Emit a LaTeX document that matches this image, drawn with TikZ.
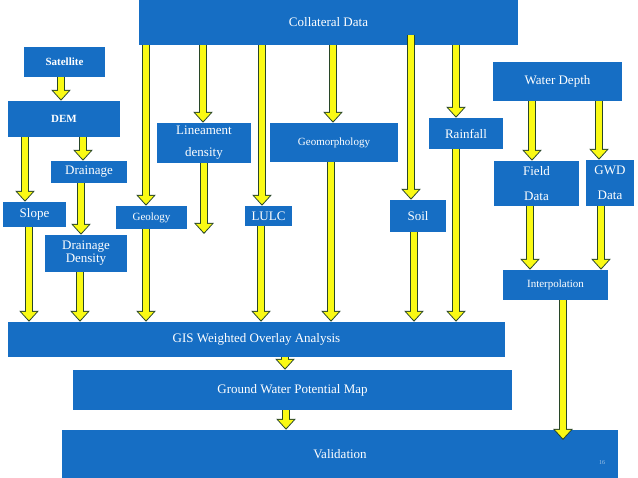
\documentclass[tikz,border=0pt]{standalone}
\usepackage{fontspec}
\setmainfont{Liberation Serif}
\usetikzlibrary{arrows.meta}
\definecolor{boxblue}{RGB}{22,110,196}
\definecolor{rim}{RGB}{40,70,40}
\definecolor{flowyel}{RGB}{250,250,20}
\tikzset{
  box/.style={fill=boxblue, text=white, inner sep=1pt, align=center, font=\fontsize{13}{14}\selectfont},
  rimline/.style={line width=8pt, rim, -{Triangle[length=11pt,width=19pt]}},
  fillline/.style={line width=5.4pt, flowyel, shorten >=1.5pt, -{Triangle[length=8.5pt,width=15pt]}}
}
\newcommand{\flow}[2]{\draw[rimline] (#1) -- (#2); \draw[fillline] (#1) -- (#2);}
\begin{document}
\begin{tikzpicture}[x=1pt,y=-1pt]
\useasboundingbox (0,0) rectangle (638,478);
\fill[white] (0,0) rectangle (638,478);
% boxes
\node[box, minimum width=379pt, minimum height=45pt] (coll) at (328.5,22.5) {Collateral Data};
\node[box, minimum width=81pt, minimum height=30pt, font=\bfseries\fontsize{11}{12}\selectfont] (sat) at (64.5,62) {Satellite};
\node[box, minimum width=112pt, minimum height=36pt, font=\bfseries\fontsize{11}{12}\selectfont] (dem) at (64,119) {DEM};
\node[box, minimum width=63pt, minimum height=25pt] (slope) at (34.5,214.5) {Slope};
\node[box, minimum width=76pt, minimum height=22pt] (drain) at (89,172) {Drainage};
\node[box, minimum width=82pt, minimum height=37pt, font=\fontsize{13}{13}\selectfont] (dd) at (86,253.5) {Drainage\\Density};
\node[box, minimum width=71pt, minimum height=23pt, font=\fontsize{11}{12}\selectfont] (geol) at (151.5,217.5) {Geology};
\node[box, minimum width=94pt, minimum height=40pt, font=\fontsize{13}{22}\selectfont] (lin) at (204,143) {Lineament\\density};
\node[box, minimum width=128pt, minimum height=39pt, font=\fontsize{11}{12}\selectfont] (geom) at (334,142.5) {Geomorphology};
\node[box, minimum width=47pt, minimum height=20pt] (lulc) at (268.5,216) {LULC};
\node[box, minimum width=56pt, minimum height=32pt] (soil) at (418,216) {Soil};
\node[box, minimum width=74pt, minimum height=31pt] (rain) at (466,133.5) {Rainfall};
\node[box, minimum width=129pt, minimum height=39pt] (wd) at (557.5,81.5) {Water Depth};
\node[box, minimum width=85pt, minimum height=45pt, font=\fontsize{13}{25}\selectfont] (field) at (536.5,183.5) {Field\\Data};
\node[box, minimum width=48pt, minimum height=46pt, font=\fontsize{13}{25}\selectfont] (gwd) at (610,183) {GWD\\Data};
\node[box, minimum width=105pt, minimum height=30pt, font=\fontsize{11}{12}\selectfont] (interp) at (555.5,285) {Interpolation};
\node[box, minimum width=497pt, minimum height=35pt] (gis) at (256.5,339.5) {GIS Weighted Overlay Analysis};
\node[box, minimum width=439pt, minimum height=40pt] (gwpm) at (292.5,390) {Ground Water Potential Map};
\node[box, minimum width=556pt, minimum height=48pt] (valid) at (340,454) {Validation};
\node[text=boxblue!40, font=\fontsize{6}{7}\selectfont] (pg) at (602,463) {16};
\coordinate (linend) at (204,234);
\coordinate (soilstart) at (411,35);
% flows
\flow{61,0 |- sat.south}{61,0 |- dem.north}
\flow{25,0 |- dem.south}{25,0 |- slope.north}
\flow{83,0 |- dem.south}{83,0 |- drain.north}
\flow{81,0 |- drain.south}{81,0 |- dd.north}
\flow{29,0 |- slope.south}{29,0 |- gis.north}
\flow{80,0 |- dd.south}{80,0 |- gis.north}
\flow{146,0 |- coll.south}{146,0 |- geol.north}
\flow{203,0 |- coll.south}{203,0 |- lin.north}
\flow{204,0 |- lin.south}{linend}
\flow{262,0 |- coll.south}{262,0 |- lulc.north}
\flow{333,0 |- coll.south}{333,0 |- geom.north}
\flow{soilstart}{411,0 |- soil.north}
\flow{456,0 |- coll.south}{456,0 |- rain.north}
\flow{146,0 |- geol.south}{146,0 |- gis.north}
\flow{261,0 |- lulc.south}{261,0 |- gis.north}
\flow{331,0 |- geom.south}{331,0 |- gis.north}
\flow{414,0 |- soil.south}{414,0 |- gis.north}
\flow{456,0 |- rain.south}{456,0 |- gis.north}
\flow{532,0 |- wd.south}{532,0 |- field.north}
\flow{599,0 |- wd.south}{599,0 |- gwd.north}
\flow{530,0 |- field.south}{530,0 |- interp.north}
\flow{601,0 |- gwd.south}{601,0 |- interp.north}
\flow{285,0 |- gis.south}{285,0 |- gwpm.north}
\flow{286,0 |- gwpm.south}{286,0 |- valid.north}
\flow{563,0 |- interp.south}{563,440}
\end{tikzpicture}
\end{document}
